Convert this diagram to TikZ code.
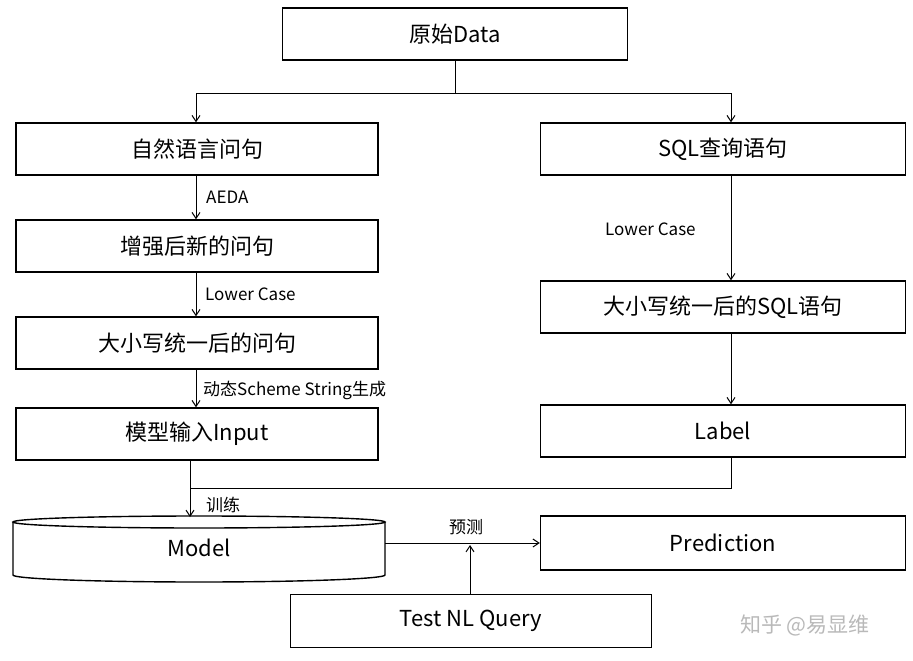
\documentclass[tikz,border=0pt]{standalone}
\usepackage{fontspec}
\setmainfont{Noto Sans CJK SC}
\usetikzlibrary{positioning,arrows.meta}

\tikzset{
  stepbox/.style={draw,line width=1.4pt,minimum width=362pt,minimum height=52pt,inner sep=0pt,font=\fontsize{22}{25}\selectfont},
  lbl/.style={anchor=west,inner sep=0pt,font=\fontsize{17}{19}\selectfont},
  conn/.style={line width=1pt,-{Straight Barb[length=6pt,width=8pt]}},
  seg/.style={line width=1pt}
}

\begin{document}
\begin{tikzpicture}[x=1pt,y=-1pt]
\useasboundingbox (0,0) rectangle (913,661);

% boxes
\node[stepbox,minimum width=345pt] (data) at (455,34) {原始Data};
\node[stepbox] (nl) at (197,149) {自然语言问句};
\node[stepbox] (aug) at (197,246) {增强后新的问句};
\node[stepbox] (low) at (197,343) {大小写统一后的问句};
\node[stepbox] (inp) at (197,434) {模型输入Input};
\node[stepbox,minimum width=365pt] (sql) at (723,149) {SQL查询语句};
\node[stepbox,minimum width=365pt] (sqllow) at (723,307) {大小写统一后的SQL语句};
\node[stepbox,minimum width=365pt] (label) at (723,431) {Label};
\node[stepbox,minimum width=365pt,minimum height=54pt] (pred) at (723,543) {Prediction};
\node[stepbox,minimum width=361pt,minimum height=53pt] (test) at (471,621) {Test NL Query};

% model cylinder
\draw[line width=1.4pt,fill=white] (13,522) -- (13,575) arc[start angle=180,end angle=0,x radius=186,y radius=7] -- (385,522);
\draw[line width=1.4pt] (199,522) ellipse[x radius=186,y radius=6];
\node[inner sep=0pt,minimum width=372pt,minimum height=40pt,font=\fontsize{22}{25}\selectfont] (model) at (199,548) {Model};

% connectors
\coordinate (split) at (455,93);
\coordinate (lx) at (196,0);
\coordinate (rx) at (731,0);
\coordinate (mx) at (190,0);
\coordinate (tx) at (470,0);
\coordinate (my) at (0,543);
\coordinate (merge) at (190,488);
\draw[seg] (data.south) -- (split);
\draw[conn] (split) -| (nl.north -| lx);
\draw[conn] (split) -| (sql.north -| rx);
\draw[conn] (nl.south -| lx) -- (aug.north -| lx);
\draw[conn] (aug.south -| lx) -- (low.north -| lx);
\draw[conn] (low.south -| lx) -- (inp.north -| lx);
\draw[conn] (sql.south -| rx) -- (sqllow.north -| rx);
\draw[conn] (sqllow.south -| rx) -- (label.north -| rx);
\draw[seg] (label.south -| rx) |- (merge);
\draw[conn] (inp.south -| mx) -- (190,517);
\draw[conn] (model.east |- my) -- (pred.west);
\draw[conn] (test.north -| tx) -- (470,545);

% labels
\node[lbl] at (206,197) {AEDA};
\node[lbl] at (205,294) {Lower Case};
\node[lbl] at (203,390) {动态Scheme String生成};
\node[lbl] at (605,229) {Lower Case};
\node[lbl] at (206,505) {训练};
\node[lbl] at (449,527) {预测};

% watermark
\node[inner sep=0pt,text=gray!55,font=\fontsize{21}{23}\selectfont] (wm) at (805,625) {知乎 @易显维};
\end{tikzpicture}
\end{document}
